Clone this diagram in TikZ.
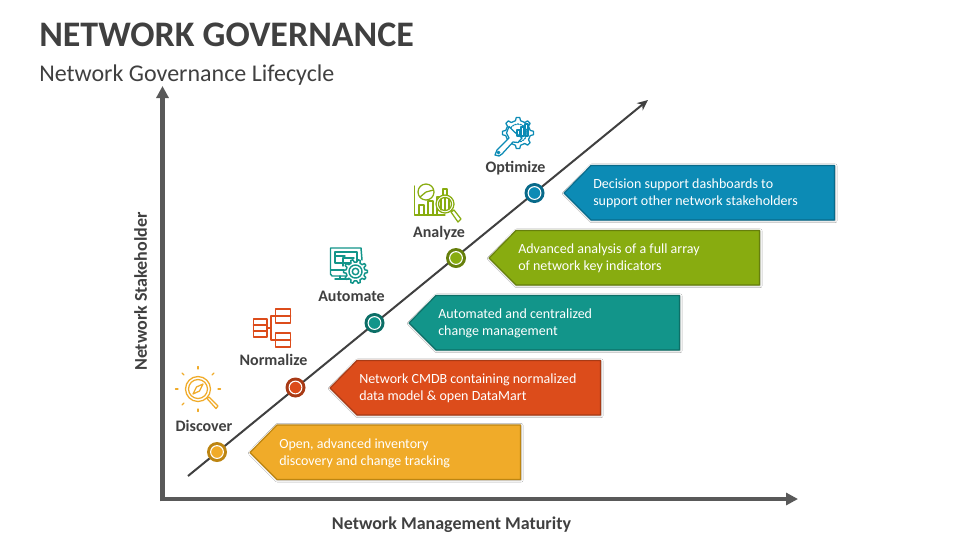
\documentclass[tikz,border=0pt]{standalone}
\usepackage{fontspec}
\setmainfont{Carlito}
\usetikzlibrary{arrows.meta,shadows.blur}
\definecolor{axisgray}{HTML}{595959}
\definecolor{linegray}{HTML}{404040}
\definecolor{textgray}{HTML}{404040}
\definecolor{cA}{HTML}{F0AB29}\definecolor{dA}{HTML}{BD8511}
\definecolor{cB}{HTML}{DC4C1B}\definecolor{dB}{HTML}{A83A15}
\definecolor{cC}{HTML}{12958A}\definecolor{dC}{HTML}{0C6F67}
\definecolor{cD}{HTML}{88AC10}\definecolor{dD}{HTML}{667F0C}
\definecolor{cE}{HTML}{0C8BB5}\definecolor{dE}{HTML}{086A8A}
\tikzset{
  x=0.75pt,y=-0.75pt,
  axisline/.style={draw=axisgray,line width=3.4pt,-{Triangle[length=9pt,width=9pt]}},
  diagline/.style={draw=linegray,line width=1.5pt,-{Stealth[length=8pt,width=7pt,inset=2.5pt]}},
  stagelabel/.style={font=\bfseries\fontsize{12}{13}\selectfont,text=textgray,inner sep=0pt,anchor=base},
  axislabel/.style={font=\bfseries\fontsize{13.5}{15}\selectfont,text=textgray,inner sep=0pt},
  tagtext/.style={font=\fontsize{10.5}{12.6}\selectfont,text=white,align=left,inner sep=0pt,anchor=west},
  tagshape/.style={line width=0.9pt,line join=bevel,blur shadow={shadow xshift=0.4pt,shadow yshift=-0.4pt,shadow blur steps=6,shadow blur radius=1.6pt,shadow opacity=30}},
  outerdot/.style={circle,minimum size=15pt,inner sep=0pt},
  innerdot/.style={circle,draw=white,line width=0.8pt,minimum size=9.6pt,inner sep=0pt},
  ic/.style={line width=0.95pt,line cap=round,line join=round},
}
\newcommand{\tagbox}[6]{%
  \path[tagshape,fill=#4,draw=#5] (#2+1,#3+28) -- (#2+28,#3+0.5) -- (#2+271.5,#3+0.5) -- (#2+271.5,#3+55) -- (#2+28,#3+55) -- cycle;
  \node[tagtext] (#1) at (#2+30,#3+28.5) {#6};
}
\newcommand{\stagedot}[5]{%
  \node[outerdot,fill=#5] (#1) at (#2,#3) {};
  \node[innerdot,fill=#4] at (#1) {};
}
% gear outline: step angle, half tooth angle, root radius, tip radius
\newcommand{\gearpath}[4]{%
  \filldraw[fill=white] (-#2:#3) \foreach \a in {0,#1,...,359}{ -- ({\a-#2}:#3) -- ({\a-0.55*#2}:#4) -- ({\a+0.55*#2}:#4) -- ({\a+#2}:#3) } -- cycle;
}
\begin{document}
\begin{tikzpicture}
\useasboundingbox (0,0) rectangle (960,540);
\fill[white] (0,0) rectangle (960,540);
\node[font=\bfseries\fontsize{26.95}{30}\selectfont,text=textgray,inner sep=0pt,anchor=base west] (title) at (39,46) {NETWORK GOVERNANCE};
\node[font=\fontsize{18}{20}\selectfont,text=textgray,inner sep=0pt,anchor=base west] (subtitle) at (39,81) {Network Governance Lifecycle};

\coordinate (origin) at (162.5,499);
\coordinate (ytip) at (162.5,86);
\coordinate (xtip) at (798,499);
\draw[axisline] (162.5,501.3) -- (ytip);
\draw[axisline] (origin) -- (xtip);
\node[axislabel,rotate=90] (ylab) at (140.5,291.5) {Network Stakeholder};
\node[axislabel] (xlab) at (451.5,524.5) {Network Management Maturity};

\coordinate (dstart) at (188,476);
\coordinate (dend) at (648,100);
\draw[diagline] (dstart) -- (dend);

\tagbox{boxA}{249}{424.5}{cA}{dA}{Open, advanced inventory\\discovery and change tracking}
\tagbox{boxB}{329}{360}{cB}{dB}{Network CMDB containing normalized\\data model \& open DataMart}
\tagbox{boxC}{408}{295}{cC}{dC}{Automated and centralized\\change management}
\tagbox{boxD}{488}{230}{cD}{dD}{Advanced analysis of a full array\\of network key indicators}
\tagbox{boxE}{563}{165}{cE}{dE}{Decision support dashboards to\\support other network stakeholders}

\stagedot{dotA}{217}{452}{cA}{dA}
\stagedot{dotB}{295.5}{387.5}{cB}{dB}
\stagedot{dotC}{374.5}{323}{cC}{dC}
\stagedot{dotD}{456}{258}{cD}{dD}
\stagedot{dotE}{534.5}{193}{cE}{dE}

\node[stagelabel] (labA) at (204,431) {Discover};
\node[stagelabel] (labB) at (273.5,365) {Normalize};
\node[stagelabel] (labC) at (351.5,301.5) {Automate};
\node[stagelabel] (labD) at (439,237) {Analyze};
\node[stagelabel] (labE) at (515.5,172) {Optimize};

\begin{scope}[ic,draw=cA]
  \draw (198,389) circle (12.5);
  \draw (198,389) circle (9.5);
  \draw (207,398.5) -- (209,397) -- (218,406) -- (216,408.5) -- cycle;
  \draw (203,384) -- (199.5,391) -- (193,394) -- (196.5,387) -- cycle;
  \foreach \a in {0,45,90,135,180,225,270}{\draw (198,389)++({-\a}:20) -- ++({-\a}:2.5);}
\end{scope}

\begin{scope}[ic,draw=cB,line width=1.2pt]
  \draw (253.5,319) rectangle (267,337);
  \draw (253.5,325) -- (267,325) (253.5,331) -- (267,331);
  \draw (275.5,309) rectangle (290.5,323);
  \draw (275.5,316) -- (290.5,316);
  \draw (275.5,333) rectangle (290.5,347);
  \draw (275.5,340) -- (290.5,340);
  \draw (267,328) -- (271,328) -- (271,316) -- (275.5,316);
  \draw (271,328) -- (271,340) -- (275.5,340);
\end{scope}

\begin{scope}[ic,draw=cC,line width=1.1pt]
  \draw (346,276) -- (332,276) -- (330.5,274) -- (330.5,248) -- (361,248) -- (362,260);
  \draw (331,270) -- (344,270);
  \draw (335,252) rectangle (357,263);
  \draw (335,256) -- (345,256);
  \draw (343,266) -- (343,258) -- (354,258);
  \draw (340,276) -- (340,279) (335,279) -- (349,279);
  \begin{scope}[shift={(355.5,271.5)}]
    \gearpath{36}{10}{9.5}{12}
    \draw (0,0) circle (6.5);
    \draw (0,0) circle (3.2);
  \end{scope}
\end{scope}

\begin{scope}[ic,draw=cD]
  \draw (414.5,186) -- (414.5,215) -- (445,215);
  \draw (426,192) circle (8);
  \draw (426,192) -- (433.5,190) (426,192) -- (420,197);
  \draw (419,215) -- (419,205) -- (424,205) -- (424,215);
  \draw (428,215) -- (428,201) -- (433,201) -- (433,215);
  \draw (437,215) -- (437,197) -- (441,197);
  \draw (443,195) -- (443,189) -- (447,189) -- (447,195);
  \path[fill=white] (445,204) circle (9);
  \draw (445,204) circle (9);
  \draw (445,204) circle (6.5);
  \draw (441,199) -- (441,210) (445,198) -- (445,210) (449,199) -- (449,209);
  \draw (451,212) -- (454,210) -- (461,219) -- (458,222) -- cycle;
\end{scope}

\begin{scope}[ic,draw=cE]
  \begin{scope}[shift={(518,133)}]
    \gearpath{45}{12}{12.5}{15.5}
    \draw[densely dotted] (0,0) circle (9);
  \end{scope}
  \draw[fill=white] (514.5,132) -- (509,126.5) -- (506.5,133) -- (509,138) -- (497,150) -- (495,155) -- (499,156) -- (502,154) -- (513,142) -- (518,142.5) -- (522,138) -- cycle;
  \draw (517,130) rectangle (520,136);
  \draw (521,127) rectangle (524,136);
  \draw (525,124) rectangle (528,136);
  \draw (498.5,152.5) circle (1.3);
\end{scope}
\end{tikzpicture}
\end{document}
